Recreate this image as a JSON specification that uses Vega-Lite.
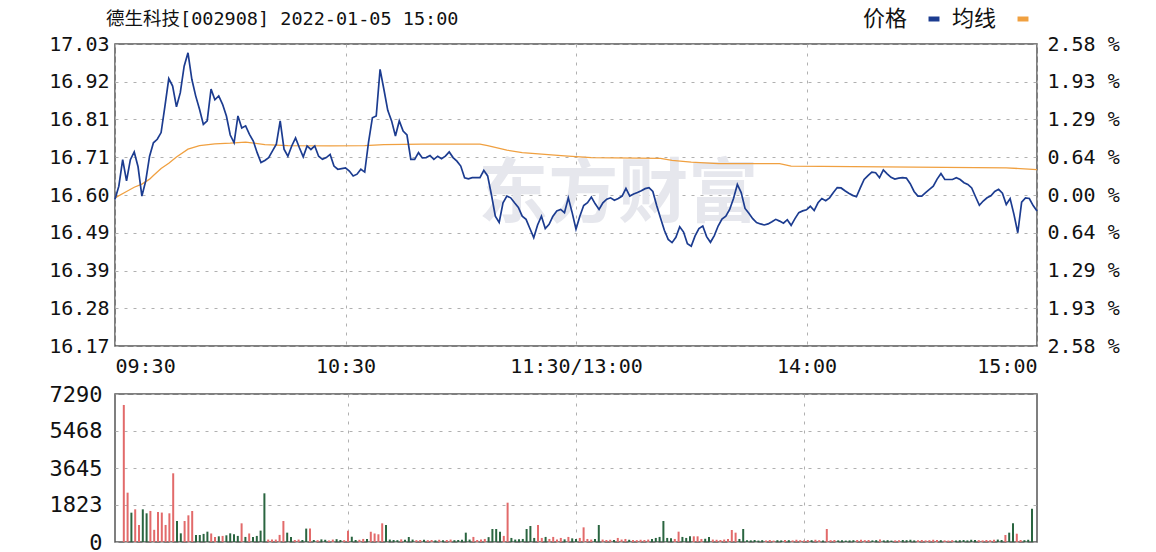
{
  "$schema": "https://vega.github.io/schema/vega-lite/v6.json",
  "background": "white",
  "padding": {"left": 48, "top": 7, "right": 5, "bottom": 5},
  "config": {
    "view": {"stroke": "#555555", "strokeWidth": 1.5},
    "font": "DejaVu Sans Mono",
    "axis": {"labelFont": "DejaVu Sans Mono", "labelFontSize": 20, "labelColor": "#111111", "domain": false, "ticks": false, "title": null, "gridColor": "#b0b0b0", "gridDash": [3, 6], "gridWidth": 1, "labelOverlap": false, "labelBound": false}
  },
  "datasets": {
    "min": [
      {"t":0,"p":16.588,"v":0,"d":"dn"},{"t":1,"p":16.625,"v":6750,"d":"up"},{"t":2,"p":16.700,"v":2430,"d":"up"},{"t":3,"p":16.640,"v":1445,"d":"dn"},{"t":4,"p":16.700,"v":1610,"d":"up"},
      {"t":5,"p":16.722,"v":840,"d":"up"},{"t":6,"p":16.680,"v":1610,"d":"dn"},{"t":7,"p":16.597,"v":1413,"d":"dn"},{"t":8,"p":16.640,"v":1530,"d":"up"},{"t":9,"p":16.710,"v":600,"d":"up"},
      {"t":10,"p":16.748,"v":1480,"d":"up"},{"t":11,"p":16.758,"v":1450,"d":"up"},{"t":12,"p":16.777,"v":840,"d":"up"},{"t":13,"p":16.852,"v":1413,"d":"up"},{"t":14,"p":16.930,"v":3384,"d":"up"},
      {"t":15,"p":16.909,"v":1034,"d":"dn"},{"t":16,"p":16.850,"v":427,"d":"dn"},{"t":17,"p":16.890,"v":1034,"d":"up"},{"t":18,"p":16.965,"v":1314,"d":"up"},{"t":19,"p":17.003,"v":1527,"d":"up"},
      {"t":20,"p":16.928,"v":345,"d":"dn"},{"t":21,"p":16.881,"v":345,"d":"dn"},{"t":22,"p":16.843,"v":400,"d":"dn"},{"t":23,"p":16.800,"v":509,"d":"dn"},{"t":24,"p":16.810,"v":420,"d":"up"},
      {"t":25,"p":16.900,"v":250,"d":"up"},{"t":26,"p":16.870,"v":280,"d":"dn"},{"t":27,"p":16.881,"v":300,"d":"up"},{"t":28,"p":16.857,"v":330,"d":"dn"},{"t":29,"p":16.824,"v":427,"d":"dn"},
      {"t":30,"p":16.770,"v":380,"d":"dn"},{"t":31,"p":16.748,"v":300,"d":"dn"},{"t":32,"p":16.824,"v":920,"d":"up"},{"t":33,"p":16.790,"v":250,"d":"dn"},{"t":34,"p":16.796,"v":420,"d":"up"},
      {"t":35,"p":16.772,"v":250,"d":"dn"},{"t":36,"p":16.753,"v":300,"d":"dn"},{"t":37,"p":16.720,"v":560,"d":"dn"},{"t":38,"p":16.692,"v":2398,"d":"dn"},{"t":39,"p":16.698,"v":120,"d":"up"},
      {"t":40,"p":16.706,"v":120,"d":"up"},{"t":41,"p":16.725,"v":120,"d":"up"},{"t":42,"p":16.744,"v":350,"d":"up"},{"t":43,"p":16.810,"v":1034,"d":"up"},{"t":44,"p":16.730,"v":460,"d":"dn"},
      {"t":45,"p":16.710,"v":250,"d":"dn"},{"t":46,"p":16.739,"v":100,"d":"up"},{"t":47,"p":16.762,"v":120,"d":"up"},{"t":48,"p":16.734,"v":100,"d":"dn"},{"t":49,"p":16.708,"v":660,"d":"dn"},
      {"t":50,"p":16.739,"v":660,"d":"up"},{"t":51,"p":16.729,"v":100,"d":"dn"},{"t":52,"p":16.739,"v":90,"d":"up"},{"t":53,"p":16.710,"v":130,"d":"dn"},{"t":54,"p":16.701,"v":110,"d":"dn"},
      {"t":55,"p":16.706,"v":80,"d":"up"},{"t":56,"p":16.715,"v":120,"d":"up"},{"t":57,"p":16.682,"v":140,"d":"dn"},{"t":58,"p":16.673,"v":100,"d":"dn"},{"t":59,"p":16.675,"v":90,"d":"up"},
      {"t":60,"p":16.677,"v":560,"d":"up"},{"t":61,"p":16.668,"v":260,"d":"dn"},{"t":62,"p":16.654,"v":100,"d":"dn"},{"t":63,"p":16.659,"v":110,"d":"up"},{"t":64,"p":16.673,"v":150,"d":"up"},
      {"t":65,"p":16.665,"v":150,"d":"dn"},{"t":66,"p":16.750,"v":509,"d":"up"},{"t":67,"p":16.819,"v":420,"d":"up"},{"t":68,"p":16.824,"v":380,"d":"up"},{"t":69,"p":16.956,"v":920,"d":"up"},
      {"t":70,"p":16.899,"v":837,"d":"dn"},{"t":71,"p":16.840,"v":120,"d":"dn"},{"t":72,"p":16.810,"v":100,"d":"dn"},{"t":73,"p":16.767,"v":90,"d":"dn"},{"t":74,"p":16.810,"v":130,"d":"up"},
      {"t":75,"p":16.781,"v":110,"d":"dn"},{"t":76,"p":16.770,"v":246,"d":"dn"},{"t":77,"p":16.701,"v":120,"d":"dn"},{"t":78,"p":16.701,"v":90,"d":"up"},{"t":79,"p":16.720,"v":100,"d":"up"},
      {"t":80,"p":16.705,"v":110,"d":"dn"},{"t":81,"p":16.706,"v":90,"d":"up"},{"t":82,"p":16.712,"v":100,"d":"up"},{"t":83,"p":16.701,"v":80,"d":"dn"},{"t":84,"p":16.710,"v":110,"d":"up"},
      {"t":85,"p":16.703,"v":90,"d":"dn"},{"t":86,"p":16.710,"v":100,"d":"up"},{"t":87,"p":16.722,"v":120,"d":"up"},{"t":88,"p":16.706,"v":90,"d":"dn"},{"t":89,"p":16.696,"v":100,"d":"dn"},
      {"t":90,"p":16.682,"v":110,"d":"dn"},{"t":91,"p":16.649,"v":460,"d":"dn"},{"t":92,"p":16.646,"v":120,"d":"dn"},{"t":93,"p":16.649,"v":250,"d":"up"},{"t":94,"p":16.649,"v":100,"d":"up"},
      {"t":95,"p":16.649,"v":120,"d":"up"},{"t":96,"p":16.670,"v":150,"d":"up"},{"t":97,"p":16.654,"v":240,"d":"dn"},{"t":98,"p":16.600,"v":640,"d":"dn"},{"t":99,"p":16.540,"v":640,"d":"dn"},
      {"t":100,"p":16.522,"v":509,"d":"dn"},{"t":101,"p":16.578,"v":300,"d":"up"},{"t":102,"p":16.597,"v":1937,"d":"up"},{"t":103,"p":16.592,"v":200,"d":"dn"},{"t":104,"p":16.578,"v":120,"d":"dn"},
      {"t":105,"p":16.565,"v":130,"d":"dn"},{"t":106,"p":16.540,"v":150,"d":"dn"},{"t":107,"p":16.531,"v":640,"d":"dn"},{"t":108,"p":16.505,"v":788,"d":"dn"},{"t":109,"p":16.479,"v":200,"d":"dn"},
      {"t":110,"p":16.515,"v":837,"d":"up"},{"t":111,"p":16.540,"v":200,"d":"up"},{"t":112,"p":16.505,"v":250,"d":"dn"},{"t":113,"p":16.517,"v":150,"d":"up"},{"t":114,"p":16.540,"v":250,"d":"up"},
      {"t":115,"p":16.555,"v":120,"d":"up"},{"t":116,"p":16.559,"v":200,"d":"up"},{"t":117,"p":16.550,"v":130,"d":"dn"},{"t":118,"p":16.592,"v":250,"d":"up"},{"t":119,"p":16.550,"v":180,"d":"dn"},
      {"t":120,"p":16.503,"v":150,"d":"dn"},{"t":121,"p":16.540,"v":200,"d":"up"},{"t":122,"p":16.570,"v":722,"d":"up"},{"t":123,"p":16.578,"v":150,"d":"up"},{"t":124,"p":16.594,"v":120,"d":"up"},
      {"t":125,"p":16.575,"v":150,"d":"dn"},{"t":126,"p":16.559,"v":837,"d":"dn"},{"t":127,"p":16.578,"v":120,"d":"up"},{"t":128,"p":16.588,"v":100,"d":"up"},{"t":129,"p":16.592,"v":110,"d":"up"},
      {"t":130,"p":16.585,"v":100,"d":"dn"},{"t":131,"p":16.590,"v":200,"d":"up"},{"t":132,"p":16.597,"v":120,"d":"up"},{"t":133,"p":16.619,"v":150,"d":"up"},{"t":134,"p":16.597,"v":110,"d":"dn"},
      {"t":135,"p":16.603,"v":100,"d":"up"},{"t":136,"p":16.607,"v":90,"d":"up"},{"t":137,"p":16.612,"v":110,"d":"up"},{"t":138,"p":16.618,"v":100,"d":"up"},{"t":139,"p":16.621,"v":120,"d":"up"},
      {"t":140,"p":16.610,"v":150,"d":"dn"},{"t":141,"p":16.570,"v":200,"d":"dn"},{"t":142,"p":16.535,"v":250,"d":"dn"},{"t":143,"p":16.500,"v":1034,"d":"dn"},{"t":144,"p":16.474,"v":200,"d":"dn"},
      {"t":145,"p":16.465,"v":180,"d":"dn"},{"t":146,"p":16.480,"v":150,"d":"up"},{"t":147,"p":16.510,"v":509,"d":"up"},{"t":148,"p":16.495,"v":250,"d":"dn"},{"t":149,"p":16.462,"v":200,"d":"dn"},
      {"t":150,"p":16.455,"v":280,"d":"dn"},{"t":151,"p":16.484,"v":280,"d":"up"},{"t":152,"p":16.505,"v":280,"d":"up"},{"t":153,"p":16.512,"v":150,"d":"up"},{"t":154,"p":16.482,"v":160,"d":"dn"},
      {"t":155,"p":16.466,"v":250,"d":"dn"},{"t":156,"p":16.485,"v":120,"d":"up"},{"t":157,"p":16.512,"v":110,"d":"up"},{"t":158,"p":16.532,"v":100,"d":"up"},{"t":159,"p":16.540,"v":120,"d":"up"},
      {"t":160,"p":16.559,"v":150,"d":"up"},{"t":161,"p":16.590,"v":591,"d":"up"},{"t":162,"p":16.630,"v":460,"d":"up"},{"t":163,"p":16.607,"v":150,"d":"dn"},{"t":164,"p":16.562,"v":640,"d":"dn"},
      {"t":165,"p":16.548,"v":90,"d":"dn"},{"t":166,"p":16.533,"v":80,"d":"dn"},{"t":167,"p":16.522,"v":100,"d":"dn"},{"t":168,"p":16.518,"v":70,"d":"dn"},{"t":169,"p":16.515,"v":90,"d":"dn"},
      {"t":170,"p":16.518,"v":80,"d":"up"},{"t":171,"p":16.524,"v":100,"d":"up"},{"t":172,"p":16.531,"v":70,"d":"up"},{"t":173,"p":16.526,"v":90,"d":"dn"},{"t":174,"p":16.520,"v":80,"d":"dn"},
      {"t":175,"p":16.530,"v":100,"d":"up"},{"t":176,"p":16.514,"v":90,"d":"dn"},{"t":177,"p":16.533,"v":80,"d":"up"},{"t":178,"p":16.550,"v":110,"d":"up"},{"t":179,"p":16.555,"v":90,"d":"up"},
      {"t":180,"p":16.558,"v":80,"d":"up"},{"t":181,"p":16.568,"v":100,"d":"up"},{"t":182,"p":16.556,"v":90,"d":"dn"},{"t":183,"p":16.578,"v":110,"d":"up"},{"t":184,"p":16.590,"v":90,"d":"up"},
      {"t":185,"p":16.584,"v":80,"d":"dn"},{"t":186,"p":16.592,"v":640,"d":"up"},{"t":187,"p":16.607,"v":90,"d":"up"},{"t":188,"p":16.621,"v":100,"d":"up"},{"t":189,"p":16.620,"v":80,"d":"dn"},
      {"t":190,"p":16.612,"v":90,"d":"dn"},{"t":191,"p":16.605,"v":70,"d":"dn"},{"t":192,"p":16.599,"v":80,"d":"dn"},{"t":193,"p":16.595,"v":90,"d":"dn"},{"t":194,"p":16.620,"v":100,"d":"up"},
      {"t":195,"p":16.644,"v":110,"d":"up"},{"t":196,"p":16.655,"v":90,"d":"up"},{"t":197,"p":16.665,"v":100,"d":"up"},{"t":198,"p":16.663,"v":80,"d":"dn"},{"t":199,"p":16.649,"v":90,"d":"dn"},
      {"t":200,"p":16.671,"v":120,"d":"up"},{"t":201,"p":16.660,"v":80,"d":"dn"},{"t":202,"p":16.650,"v":90,"d":"dn"},{"t":203,"p":16.645,"v":70,"d":"dn"},{"t":204,"p":16.648,"v":80,"d":"up"},
      {"t":205,"p":16.649,"v":90,"d":"up"},{"t":206,"p":16.648,"v":100,"d":"dn"},{"t":207,"p":16.632,"v":90,"d":"dn"},{"t":208,"p":16.610,"v":110,"d":"dn"},{"t":209,"p":16.597,"v":80,"d":"dn"},
      {"t":210,"p":16.597,"v":90,"d":"up"},{"t":211,"p":16.607,"v":100,"d":"up"},{"t":212,"p":16.616,"v":80,"d":"up"},{"t":213,"p":16.625,"v":90,"d":"up"},{"t":214,"p":16.645,"v":110,"d":"up"},
      {"t":215,"p":16.661,"v":100,"d":"up"},{"t":216,"p":16.644,"v":90,"d":"dn"},{"t":217,"p":16.644,"v":80,"d":"up"},{"t":218,"p":16.644,"v":70,"d":"up"},{"t":219,"p":16.649,"v":90,"d":"up"},
      {"t":220,"p":16.644,"v":80,"d":"dn"},{"t":221,"p":16.635,"v":90,"d":"dn"},{"t":222,"p":16.630,"v":100,"d":"dn"},{"t":223,"p":16.620,"v":80,"d":"dn"},{"t":224,"p":16.595,"v":110,"d":"dn"},
      {"t":225,"p":16.571,"v":100,"d":"dn"},{"t":226,"p":16.583,"v":90,"d":"up"},{"t":227,"p":16.592,"v":80,"d":"up"},{"t":228,"p":16.598,"v":100,"d":"up"},{"t":229,"p":16.610,"v":90,"d":"up"},
      {"t":230,"p":16.616,"v":110,"d":"up"},{"t":231,"p":16.605,"v":120,"d":"dn"},{"t":232,"p":16.573,"v":100,"d":"dn"},{"t":233,"p":16.590,"v":345,"d":"up"},{"t":234,"p":16.545,"v":460,"d":"dn"},
      {"t":235,"p":16.493,"v":920,"d":"dn"},{"t":236,"p":16.580,"v":410,"d":"up"},{"t":237,"p":16.592,"v":100,"d":"up"},{"t":238,"p":16.590,"v":90,"d":"dn"},{"t":239,"p":16.570,"v":110,"d":"dn"},
      {"t":240,"p":16.555,"v":1642,"d":"dn"}
    ],
    "avg": [
      {"t":0,"a":16.592},{"t":3,"a":16.610},{"t":5,"a":16.622},{"t":7,"a":16.631},{"t":9,"a":16.645},{"t":10,"a":16.655},{"t":12,"a":16.675},
      {"t":14,"a":16.690},{"t":16,"a":16.708},{"t":19,"a":16.730},{"t":22,"a":16.740},{"t":26,"a":16.745},{"t":30,"a":16.747},{"t":34,"a":16.750},
      {"t":39,"a":16.743},{"t":45,"a":16.740},{"t":56,"a":16.739},{"t":65,"a":16.740},{"t":70,"a":16.743},{"t":80,"a":16.744},{"t":95,"a":16.744},
      {"t":97,"a":16.740},{"t":102,"a":16.727},{"t":106,"a":16.720},{"t":117,"a":16.711},{"t":124,"a":16.706},{"t":142,"a":16.704},{"t":145,"a":16.698},
      {"t":150,"a":16.693},{"t":157,"a":16.689},{"t":173,"a":16.689},{"t":176,"a":16.682},{"t":232,"a":16.677},{"t":240,"a":16.672}
    ],
    "mark": [{"t":131,"p":16.598,"label":"东方财富"}]
  },
  "spacing": 48,
  "bounds": "flush",
  "resolve": {"scale": {"x": "independent", "y": "independent", "color": "independent"}},
  "vconcat": [
    {
      "width": 922,
      "height": 302,
      "title": {"text": "德生科技[002908] 2022-01-05 15:00", "anchor": "start", "frame": "group", "font": "DejaVu Sans Mono, Noto Sans CJK SC", "fontSize": 18.5, "fontWeight": "normal", "color": "#111111", "offset": 14, "dx": -9, "dy": 34},
      "encoding": {
        "x": {"field": "t", "type": "quantitative", "scale": {"domain": [0, 240], "nice": false, "zero": false},
              "axis": {"values": [0, 60, 120, 180, 240], "grid": true, "labelFlush": true, "labelPadding": 10,
                       "labelExpr": "datum.value == 0 ? '09:30' : datum.value == 60 ? '10:30' : datum.value == 120 ? '11:30/13:00' : datum.value == 180 ? '14:00' : '15:00'"}}
      },
      "layer": [
        {
          "data": {"name": "mark"},
          "mark": {"type": "text", "font": "Noto Sans CJK SC", "fontSize": 70, "fontWeight": "bold", "color": "#e6e7ed"},
          "encoding": {
            "y": {"field": "p", "type": "quantitative", "scale": {"domain": [16.172, 17.028], "nice": false, "zero": false}, "axis": null},
            "text": {"field": "label"}
          }
        },
        {
          "data": {"name": "avg"},
          "mark": {"type": "line", "strokeWidth": 1.3},
          "encoding": {
            "y": {"field": "a", "type": "quantitative", "scale": {"domain": [16.172, 17.028], "nice": false, "zero": false},
                  "axis": {"orient": "right", "values": [16.172, 16.279, 16.386, 16.493, 16.6, 16.707, 16.814, 16.921, 17.028], "grid": false, "labelPadding": 10, "labelFlush": false,
                           "labelExpr": "format(abs(datum.value - 16.6) / 16.6 * 100, '.2f') + ' %'",
                           "encode": {"labels": {"update": {"fill": {"signal": "datum.value > 16.61 ? '#e06a6a' : datum.value < 16.59 ? '#2f6b45' : '#111111'"}}}}}},
            "color": {"datum": "均线", "type": "nominal", "scale": {"domain": ["价格", "均线"], "range": ["#1c3c90", "#f0a040"]},
                      "legend": {"orient": "none", "legendX": 808, "legendY": -36, "direction": "horizontal", "title": null, "labelFont": "Noto Sans CJK SC", "labelFontSize": 22, "labelColor": "#111111", "symbolType": "stroke", "symbolStrokeWidth": 5, "symbolSize": 120, "columnPadding": 1, "labelAlign": "right", "labelOffset": -38}}
          }
        },
        {
          "data": {"name": "min"},
          "mark": {"type": "line", "strokeWidth": 1.7},
          "encoding": {
            "y": {"field": "p", "type": "quantitative", "scale": {"domain": [16.172, 17.028], "nice": false, "zero": false},
                  "axis": {"orient": "left", "values": [16.172, 16.279, 16.386, 16.493, 16.6, 16.707, 16.814, 16.921, 17.028], "grid": true, "labelPadding": 6, "labelFlush": false,
                           "labelExpr": "format(datum.value, '.2f')",
                           "encode": {"labels": {"update": {"fill": {"signal": "datum.value > 16.61 ? '#e06a6a' : datum.value < 16.59 ? '#2f6b45' : '#111111'"}}}}}},
            "color": {"datum": "价格", "type": "nominal"}
          }
        }
      ],
      "resolve": {"axis": {"y": "independent"}}
    },
    {
      "width": 922,
      "height": 148,
      "data": {"name": "min"},
      "mark": {"type": "bar", "width": 2},
      "encoding": {
        "x": {"field": "t", "type": "quantitative", "scale": {"domain": [0, 240], "nice": false, "zero": false},
              "axis": {"values": [60, 120, 180], "grid": true, "labels": false}},
        "y": {"field": "v", "type": "quantitative", "scale": {"domain": [0, 7290], "nice": false},
              "axis": {"values": [0, 1823, 3645, 5468, 7290], "grid": true, "labelFontSize": 22, "labelPadding": 13, "labelFlush": false, "format": "d"}},
        "color": {"field": "d", "type": "nominal", "scale": {"domain": ["up", "dn"], "range": ["#e26a6a", "#2a6540"]}, "legend": null}
      }
    }
  ]
}
